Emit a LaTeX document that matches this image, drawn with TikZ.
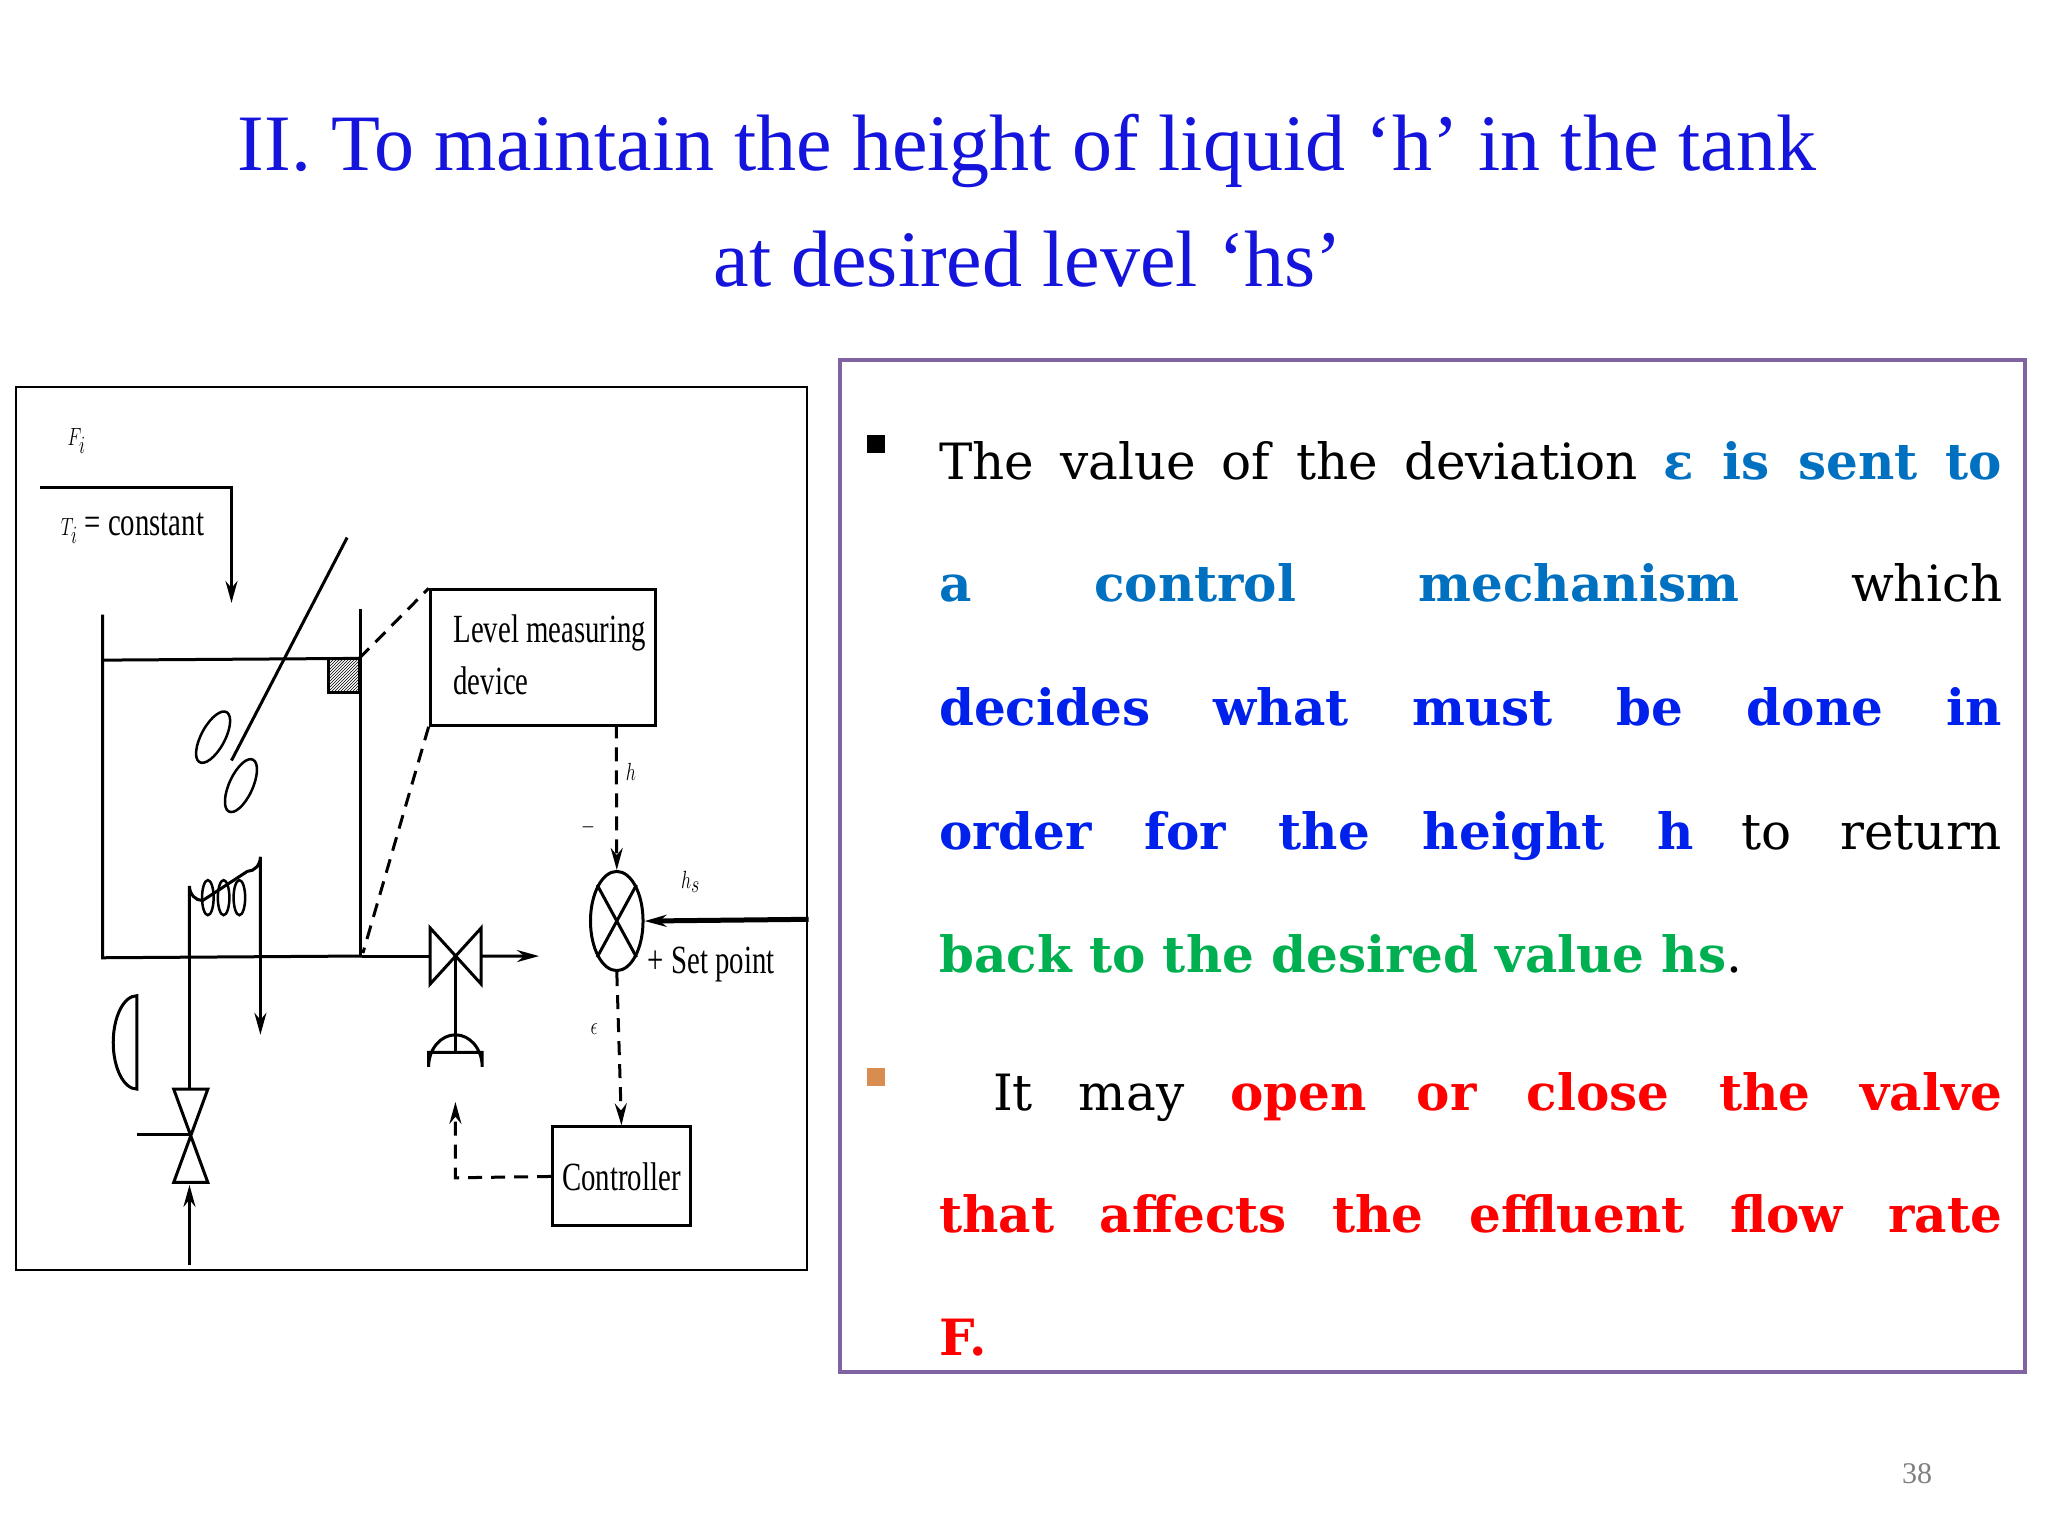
\documentclass[tikz,border=0pt]{standalone}
\usepackage{fontspec}
\setmainfont{Liberation Serif}
\newfontfamily\bodyfont{DejaVu Serif}
\usetikzlibrary{arrows.meta,patterns,shapes.geometric}
\definecolor{ttl}{RGB}{20,20,220}
\definecolor{cteal}{RGB}{0,112,192}
\definecolor{cblue}{RGB}{0,32,235}
\definecolor{cgreen}{RGB}{0,176,80}
\definecolor{cred}{RGB}{255,0,0}
\definecolor{corange}{RGB}{217,140,80}
\definecolor{cpurple}{RGB}{128,100,162}
\newcommand\dg[1]{\scalebox{0.72}[1]{\fontsize{40}{44}\selectfont #1}}
\newcommand\jl[1]{\makebox[1063pt][s]{#1}}
\begin{document}
\begin{tikzpicture}[x=1pt,y=-1pt,
  pipe/.style={line width=3pt},
  sig/.style={line width=3pt,dash pattern=on 14pt off 9pt},
  arr/.style={-{Stealth[length=22pt,width=12pt]}},
  lbl/.style={inner sep=0pt,anchor=base west},
  bodyline/.style={inner sep=0pt,anchor=base west,font=\bodyfont\fontsize{50}{60}\selectfont}]
\fill[white] (0,0) rectangle (2048,1536);
\useasboundingbox (0,0) rectangle (2048,1536);
% title
\node[inner sep=0pt,anchor=base,text=ttl,font=\fontsize{80}{90}\selectfont] (t1) at (1027,171) {II. To maintain the height of liquid ‘h’ in the tank};
\node[inner sep=0pt,anchor=base,text=ttl,font=\fontsize{80}{90}\selectfont] (t2) at (1028,286) {at desired level ‘hs’};
% text box
\draw[cpurple,line width=4pt] (840,360) rectangle (2025,1372);
\fill[black] (867,435) rectangle (885,453);
\fill[corange] (867,1068) rectangle (885,1086);
\node[bodyline] (l1) at (939,479) {\jl{The value of the deviation \textcolor{cteal}{\bfseries ε is sent to}}};
\node[bodyline] (l2) at (939,601) {\jl{\textcolor{cteal}{\bfseries a control mechanism} which}};
\node[bodyline,text=cblue] (l3) at (939,725) {\jl{\bfseries decides what must be done in}};
\node[bodyline] (l4) at (939,849) {\jl{\textcolor{cblue}{\bfseries order for the height h} to return}};
\node[bodyline] (l5) at (939,972) {\textcolor{cgreen}{\bfseries back to the desired value hs}.};
\node[bodyline] (l6) at (993,1110) {\makebox[1009pt][s]{It may \textcolor{cred}{\bfseries open or close the valve}}};
\node[bodyline,text=cred] (l7) at (939,1232) {\jl{\bfseries that affects the effluent flow rate}};
\node[bodyline,text=cred] (l8) at (939,1355) {\bfseries F.};
\node[inner sep=0pt,text=gray,font=\fontsize{30}{32}\selectfont] (pg) at (1917,1474) {38};
% diagram frame
\draw[line width=2pt] (16,387) rectangle (807,1270);
\begin{scope}[shift={(16-30*0.5256,387-25*0.5836)},xscale=0.5256,yscale=0.5836]
 \node[lbl] (fi) at (128,125) {\dg{$F_i$}};
 \draw[pipe,arr] (75,198) -- (440,198) -- (440,395);
 \node[lbl] (ti) at (115,280) {\dg{$T_i$ = constant}};
 % tank
 \draw[pipe] (195,415) -- (195,1003) -- (688,1000);
 \draw[pipe] (685,405) -- (685,1000);
 \draw[pipe] (195,493) -- (685,490);
 \draw[pipe,pattern=north east lines] (625,490) rectangle (683,548);
 % stirrer
 \draw[pipe] (660,283) -- (440,665);
 \draw[line width=2.5pt,rotate around={58:(405,625)}] (405,625) ellipse (50 and 22);
 \draw[line width=2.5pt,rotate around={62:(458,708)}] (458,708) ellipse (50 and 22);
 % coil
 \draw[pipe] (360,1005) -- (360,880) arc (180:90:25) -- (470,855) arc (90:0:25) -- (495,1000);
 \foreach \cx in {395,425,455}{\draw[line width=2.5pt] (\cx,900) ellipse (11 and 30);}
 \draw[pipe,arr] (495,1000) -- (495,1135);
 % bottom-left valve
 \draw[pipe] (360,1005) -- (360,1228);
 \draw[pipe] (330,1228) -- (395,1228) -- (330,1388) -- (395,1388) -- cycle;
 \draw[pipe] (260,1305) -- (362,1305);
 \draw[pipe] (260,1228) arc (90:270:45 and 80) -- cycle;
 \node[coordinate] (inb) at (360,1530) {};
 \node[coordinate] (inv) at (360,1392) {};
 \draw[pipe,arr] (inb) -- (inv);
 % outlet & valve
 \draw[pipe] (688,1000) -- (818,1000);
 \draw[pipe] (818,952) -- (818,1048) -- (915,952) -- (915,1048) -- cycle;
 \node[coordinate] (oute) at (1025,1000) {};
 \draw[pipe,arr] (915,1000) -- (oute);
 \draw[pipe] (866,1000) -- (866,1165);
 \draw[pipe] (815,1165) -- (917,1165) -- (917,1190) arc (0:-180:51 and 55) -- cycle;
 % level device
 \node[draw,line width=3pt,minimum width=428*0.5256pt,minimum height=232*0.5836pt,anchor=north west,inner sep=0pt] (lmd) at (815,370) {};
 \node[lbl] (lmt) at (862,462) {\dg{Level measuring}};
 \node[lbl] (lmt2) at (862,552) {\dg{device}};
 \draw[sig] (683,490) -- (lmd.north west);
 \draw[sig] (lmd.south west) -- (690,995);
 % comparator
 \node[draw,line width=3pt,ellipse,minimum width=100*0.5256pt,minimum height=170*0.5836pt,inner sep=0pt] (cmp) at (1173,940) {};
 \draw[line width=3pt] (cmp.north west) -- (cmp.south east) (cmp.north east) -- (cmp.south west);
 \draw[sig,arr] (1172,603) -- (cmp.north);
 \node[lbl] (hl) at (1190,700) {\dg{$h$}};
 \node[lbl] (mn) at (1105,790) {\dg{$-$}};
 \node[coordinate] (spin) at (1538,937) {};
 \draw[line width=5pt,arr] (spin) -- (cmp.east);
 \node[lbl] (hs) at (1295,885) {\dg{$h_s$}};
 \node[lbl] (sp) at (1232,1030) {\dg{+ Set point}};
 % controller
 \node[draw,line width=3pt,minimum width=262*0.5256pt,minimum height=170*0.5836pt,anchor=north west,inner sep=0pt] (ctl) at (1048,1290) {};
 \node[inner sep=0pt] (ctt) at (ctl.center) {\dg{Controller}};
 \draw[sig,arr] (cmp.south) -- (ctl.north);
 \node[lbl] (ep) at (1123,1135) {\dg{$\epsilon$}};
 \draw[sig,arr] (ctl.west) -- (866,1380) -- (866,1250);
\end{scope}
\end{tikzpicture}
\end{document}
